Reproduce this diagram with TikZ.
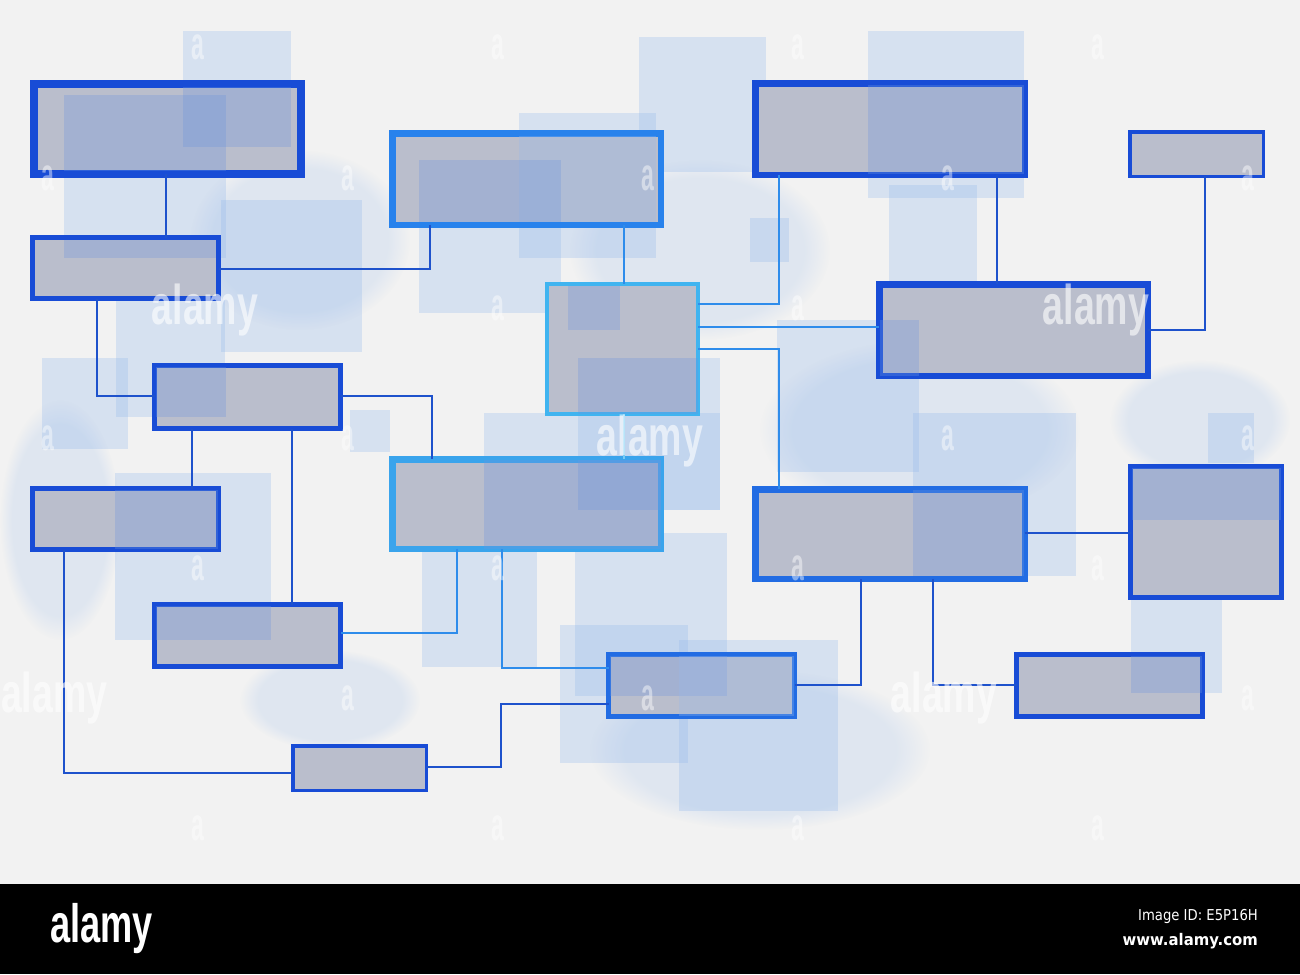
\documentclass[tikz,border=0pt]{standalone}
\usepackage{fontspec}
\newfontfamily\wmfont{Liberation Sans}
\newfontfamily\idfont{DejaVu Sans}
\usetikzlibrary{fadings}
\definecolor{bggray}{RGB}{242,242,242}
\definecolor{boxblue}{RGB}{24,76,214}
\definecolor{boxcyan}{RGB}{64,180,240}
\definecolor{boxmid}{RGB}{40,130,236}
\definecolor{boxgray}{RGB}{186,190,204}
\definecolor{connblue}{RGB}{30,82,204}
\definecolor{connlight}{RGB}{46,140,235}
\definecolor{ovblue}{RGB}{150,186,236}
\definecolor{ovdark}{RGB}{110,150,222}
\begin{document}
\begin{tikzpicture}[x=1pt,y=-1pt,
  box/.style={draw=boxblue, fill=boxgray, line width=6.5pt, inner sep=0pt, outer sep=0pt, rectangle},
  conn/.style={draw=connblue, line width=2.2pt},
  connl/.style={draw=connlight, line width=2pt},
  ov/.style={fill=ovblue, fill opacity=0.3, draw=none},
  ovd/.style={fill=ovdark, fill opacity=0.3, draw=none},
  glow/.style={fill=ovblue, fill opacity=0.2, path fading=circle with fuzzy edge 20 percent},
  wmbig/.style={text=white, text opacity=0.6, inner sep=0pt, xscale=0.67, font=\wmfont\bfseries\fontsize{56}{56}\selectfont},
  wmsmall/.style={text=white, text opacity=0.45, inner sep=0pt, xscale=0.5, font=\wmfont\bfseries\fontsize{46}{46}\selectfont}
]
\useasboundingbox (0,0) rectangle (1300,974);
\fill[bggray] (0,0) rectangle (1300,884);
\fill[black] (0,884) rectangle (1300,974);

% soft glows
\fill[glow] (700,250) ellipse (130 and 90);
\fill[glow] (920,430) ellipse (160 and 90);
\fill[glow] (760,750) ellipse (170 and 80);
\fill[glow] (300,240) ellipse (110 and 90);
\fill[glow] (1200,420) ellipse (90 and 60);
\fill[glow] (330,700) ellipse (90 and 50);
\fill[glow] (60,520) ellipse (60 and 120);

% background translucent squares
\fill[ov] (183,31) rectangle (291,147);
\fill[ov] (64,95) rectangle (226,258);
\fill[ov] (221,200) rectangle (362,352);
\fill[ov] (116,300) rectangle (225,417);
\fill[ov] (519,113) rectangle (656,258);
\fill[ov] (419,160) rectangle (561,313);
\fill[ov] (639,37) rectangle (766,172);
\fill[ov] (868,31) rectangle (1024,198);
\fill[ov] (889,185) rectangle (977,283);
\fill[ov] (750,218) rectangle (789,262);
\fill[ov] (777,320) rectangle (919,472);
\fill[ov] (913,413) rectangle (1076,576);
\fill[ov] (1131,600) rectangle (1222,693);
\fill[ov] (1208,413) rectangle (1254,463);
\fill[ov] (42,358) rectangle (128,449);
\fill[ov] (115,473) rectangle (271,640);
\fill[ov] (350,410) rectangle (390,452);
\fill[ov] (484,413) rectangle (720,510);
\fill[ov] (578,358) rectangle (720,510);
\fill[ov] (422,543) rectangle (537,667);
\fill[ov] (575,533) rectangle (727,696);
\fill[ov] (560,625) rectangle (688,763);
\fill[ov] (679,640) rectangle (838,811);

% boxes
\node[box, line width=7.5pt, minimum width=267pt, minimum height=90pt] (A) at (167.5,129) {};
\node[box, line width=5pt, minimum width=186pt, minimum height=61pt] (B) at (125.5,268) {};
\node[box, draw=boxmid, minimum width=268.5pt, minimum height=91.5pt] (C) at (526.5,179) {};
\node[box, draw=boxcyan, line width=4pt, minimum width=151pt, minimum height=130pt] (D) at (622.5,349) {};
\node[box, minimum width=269.5pt, minimum height=91.5pt] (E) at (890,129) {};
\node[box, line width=3.5pt, minimum width=133.5pt, minimum height=44.5pt] (F) at (1196.5,154) {};
\node[box, minimum width=268.5pt, minimum height=91.5pt] (G) at (1013.5,330) {};
\node[box, line width=5pt, minimum width=186pt, minimum height=63pt] (H) at (247.5,397) {};
\node[box, draw=boxcyan!85!boxblue, minimum width=268.5pt, minimum height=89.5pt] (I) at (526.5,504) {};
\node[box, line width=5pt, minimum width=186pt, minimum height=61pt] (J) at (125.5,519) {};
\node[box, draw=boxmid!60!boxblue, minimum width=269.5pt, minimum height=89.5pt] (K) at (890,534) {};
\node[box, line width=5pt, minimum width=151pt, minimum height=131pt] (L) at (1206,532) {};
\node[box, line width=5pt, minimum width=186pt, minimum height=62pt] (M) at (247.5,635.5) {};
\node[box, draw=boxmid!60!boxblue, line width=5pt, minimum width=186pt, minimum height=62pt] (N) at (701.5,685.5) {};
\node[box, line width=5pt, minimum width=186pt, minimum height=62pt] (O) at (1109.5,685.5) {};
\node[box, line width=3.5pt, minimum width=133.5pt, minimum height=44.5pt] (P) at (359.5,768) {};

% connectors
\draw[conn] (A.south -| 166,0) -- (B.north -| 166,0);
\draw[conn] (B.east |- 0,269) -| (C.south -| 430,0);
\draw[connl] (C.south -| 624,0) -- (D.north -| 624,0);
\draw[connl] (D.east |- 0,304) -| (E.south -| 779,0);
\draw[conn] (E.south -| 997,0) -- (G.north -| 997,0);
\draw[conn] (F.south -| 1205,0) |- (G.east |- 0,330);
\draw[connl] (D.east |- 0,327) -- (G.west |- 0,327);
\draw[connl] (D.east |- 0,349) -| (K.north -| 779,0);
\draw[conn] (B.south -| 97,0) |- (H.west |- 0,396);
\draw[conn] (H.east |- 0,396) -| (I.north -| 432,0);
\draw[conn] (H.south -| 192,0) -- (J.north -| 192,0);
\draw[conn] (H.south -| 292,0) -- (M.north -| 292,0);
\draw[conn] (J.south -| 64,0) |- (P.west |- 0,773);
\draw[connl] (I.south -| 457,0) |- (M.east |- 0,633);
\draw[connl] (I.south -| 502,0) |- (N.west |- 0,668);
\draw[conn] (N.west |- 0,704) -| (501,767) -- (P.east |- 0,767);
\draw[conn] (N.east |- 0,685) -| (K.south -| 861,0);
\draw[conn] (K.south -| 933,0) |- (O.west |- 0,685);
\draw[conn] (K.east |- 0,533) -- (L.west |- 0,533);
\draw[connl, draw=boxcyan!70!white, line width=1.6pt] (D.south -| 624,0) -- (I.north -| 624,0);

% overlays seen through the boxes
\fill[ovd] (183,87) rectangle (291,147);
\fill[ovd] (64,95) rectangle (226,171);
\fill[ovd] (64,240) rectangle (216,258);
\fill[ov] (519,136) rectangle (656,222);
\fill[ovd] (419,160) rectangle (561,222);
\fill[ovd] (568,286) rectangle (620,330);
\fill[ovd] (578,358) rectangle (698,414);
\fill[ovd] (578,460) rectangle (661,510);
\fill[ovd] (484,460) rectangle (661,549);
\fill[ovd] (868,85) rectangle (1024,174);
\fill[ovd] (880,320) rectangle (919,376);
\fill[ovd] (913,490) rectangle (1024,576);
\fill[ovd] (156,367) rectangle (226,417);
\fill[ovd] (115,490) rectangle (218,549);
\fill[ovd] (156,606) rectangle (271,640);
\fill[ovd] (610,656) rectangle (727,696);
\fill[ov] (679,656) rectangle (794,716);
\fill[ovd] (1131,656) rectangle (1202,693);
\fill[ovd] (1132,468) rectangle (1281,520);

% watermarks
\foreach \x/\y in {198/47,498/47,798/47,1098/47,
                   48/178,348/178,648/178,948/178,1248/178,
                   498/308,798/308,
                   48/438,348/438,948/438,1248/438,
                   198/568,498/568,798/568,1098/568,
                   348/698,648/698,1248/698,
                   198/828,498/828,798/828,1098/828}
  \node[wmsmall] (wa\x-\y) at (\x,\y) {a};
\node[wmbig] (w1) at (205,310) {alamy};
\node[wmbig] (w2) at (650,441) {alamy};
\node[wmbig] (w3) at (1096,310) {alamy};
\node[wmbig, anchor=west] (w4) at (1,698) {alamy};
\node[wmbig] (w5) at (944,698) {alamy};

% bottom bar
\node[text=white, inner sep=0pt, xscale=0.67, font=\wmfont\bfseries\fontsize{54}{54}\selectfont, anchor=west] (logo) at (50,929) {alamy};
\node[text=white, inner sep=0pt, xscale=0.88, font=\idfont\fontsize{15}{17}\selectfont, anchor=east] (imgid) at (1258,916) {Image ID: E5P16H};
\node[text=white, inner sep=0pt, xscale=0.93, font=\idfont\bfseries\fontsize{16}{18}\selectfont, anchor=east] (url) at (1258,941) {www.alamy.com};
\end{tikzpicture}
\end{document}
